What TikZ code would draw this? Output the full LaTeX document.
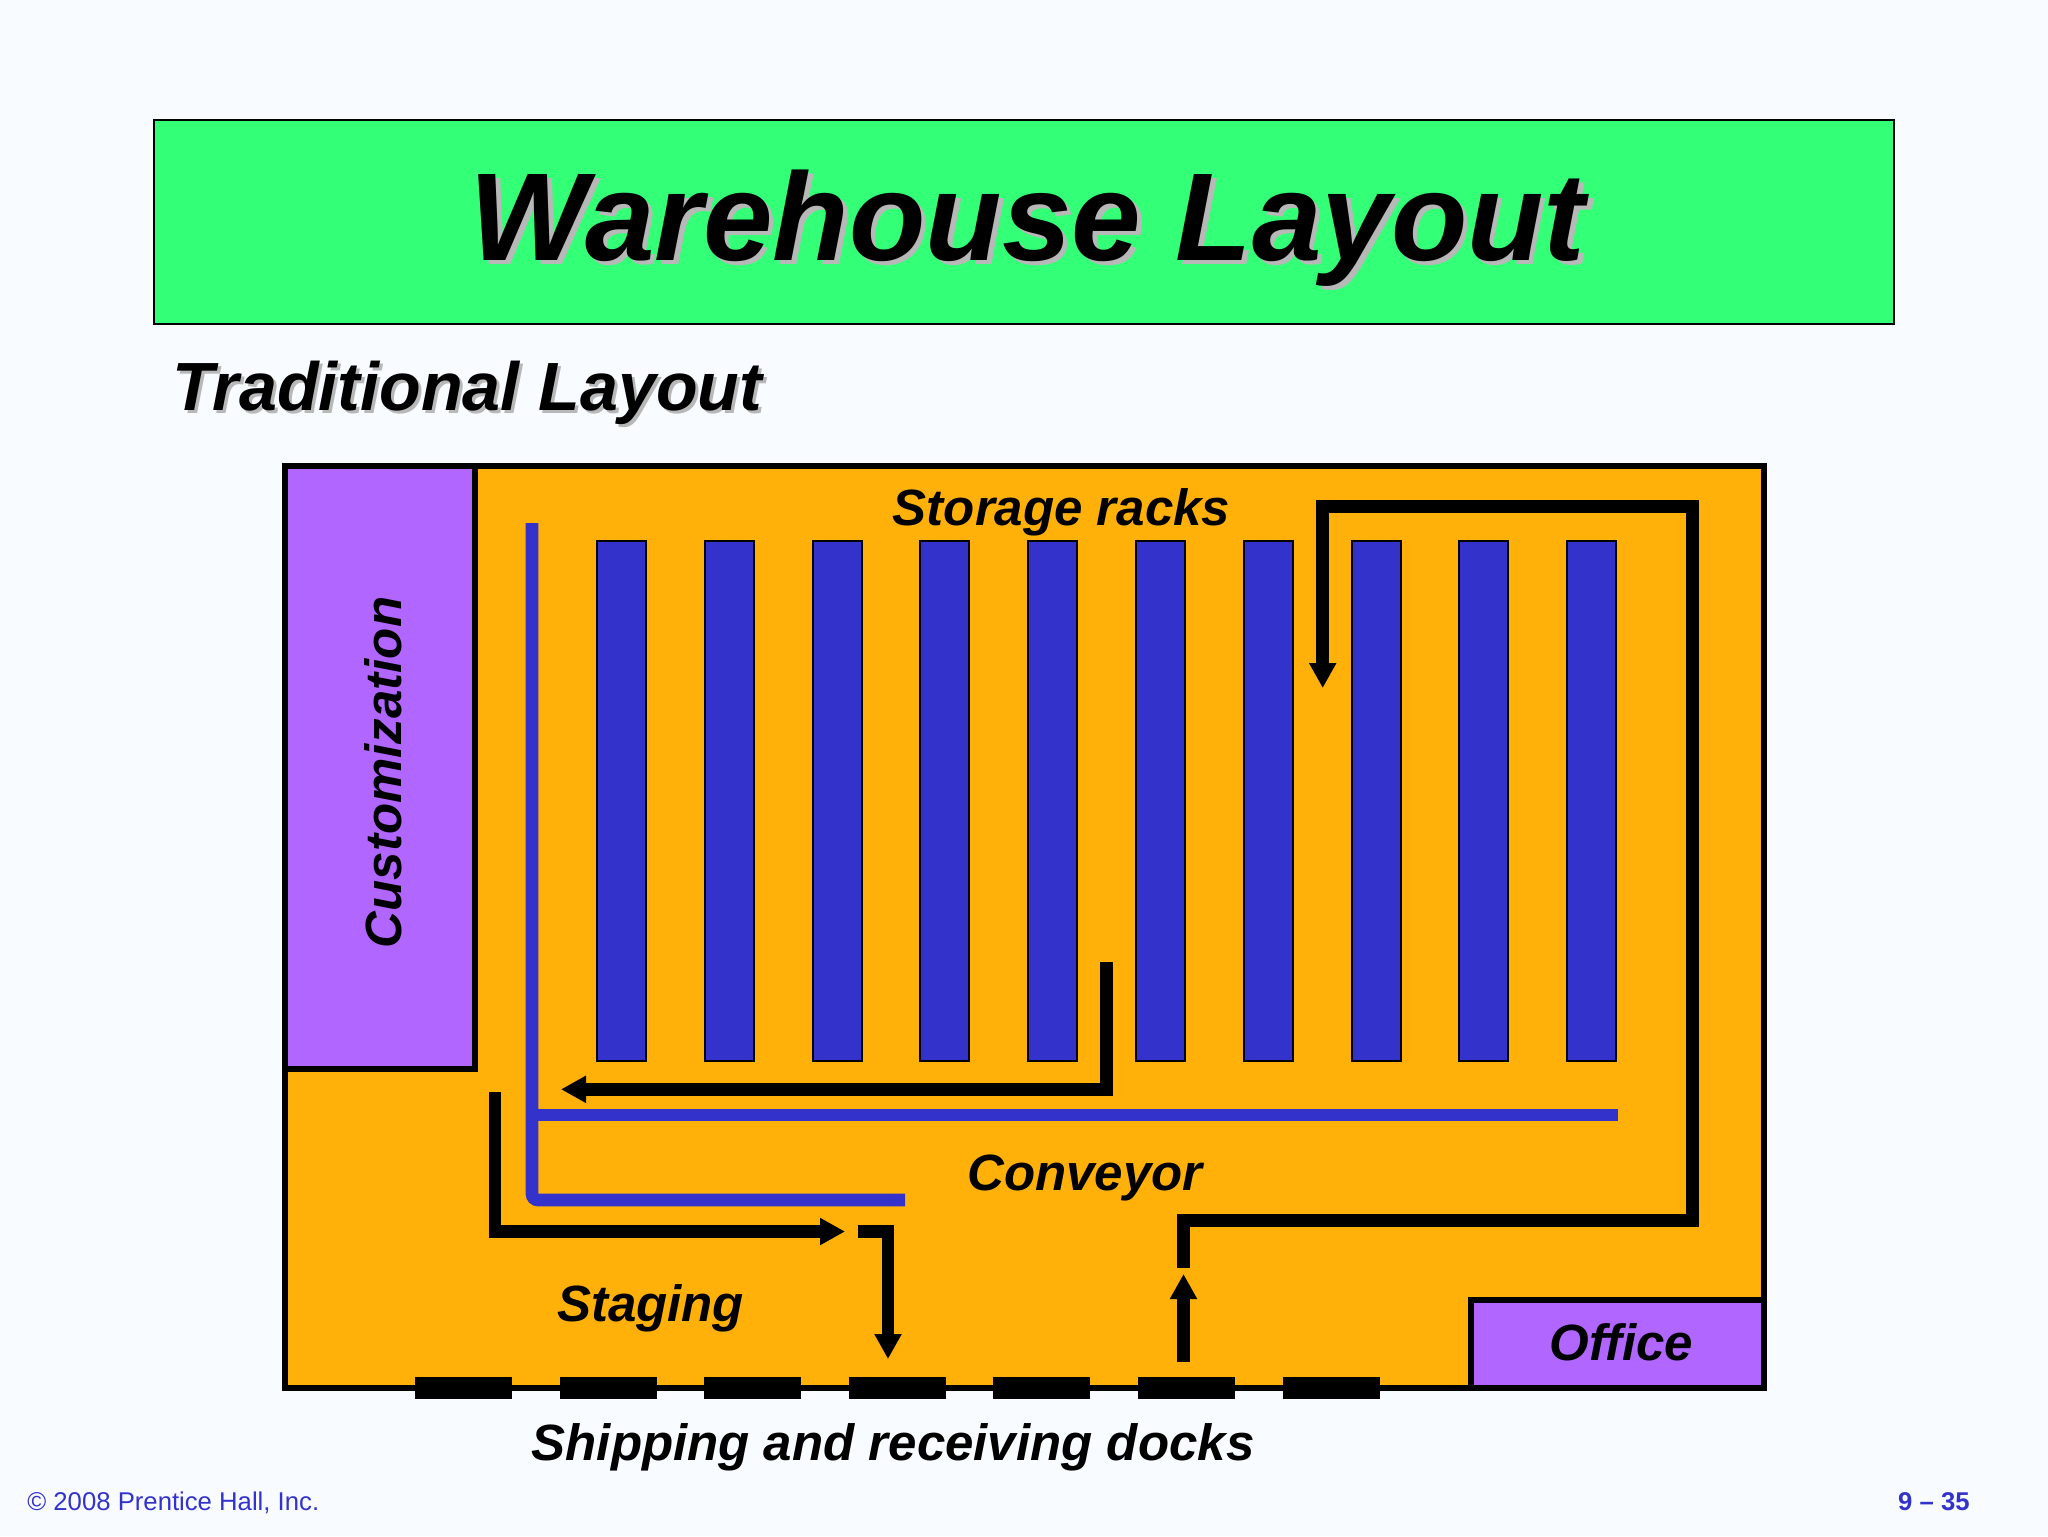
\documentclass[tikz,border=0pt]{standalone}
\usepackage{fontspec}
\setmainfont{Liberation Sans}
\usetikzlibrary{arrows.meta}
\definecolor{pagebg}{HTML}{F8FBFF}
\definecolor{titlegreen}{HTML}{33FF77}
\definecolor{floor}{HTML}{FFB10A}
\definecolor{roomv}{HTML}{B066FF}
\definecolor{rackblue}{HTML}{3333CC}
\definecolor{shadowgray}{HTML}{B8B8B8}
\tikzset{
  wall/.style={draw=black,line width=3pt,miter limit=10},
  flow/.style={draw=black,line width=6.4pt,line cap=butt,line join=miter},
  flowtip/.style={flow,-{Triangle[length=12.5pt,width=12.8pt,inset=0pt]}},
  belt/.style={draw=rackblue,line width=6.3pt,line cap=butt},
  lab/.style={inner sep=0pt,anchor=base,font=\fontsize{25.5}{30}\selectfont\bfseries\itshape},
  foot/.style={inner sep=0pt,text=rackblue,font=\fontsize{12.85}{15}\selectfont}
}
\begin{document}
\begin{tikzpicture}[x=0.5pt,y=-0.5pt]
\fill[pagebg] (0,0) rectangle (2048,1536);
\path[use as bounding box] (0,0) rectangle (2048,1536);
% title
\draw[fill=titlegreen,line width=1pt] (153.5,120) rectangle (1894,324);
\node[inner sep=0pt,anchor=base,text=shadowgray,font=\fontsize{62.5}{70}\selectfont\bfseries\itshape] at (1032,264) {Warehouse Layout};
\node[inner sep=0pt,anchor=base,font=\fontsize{62.5}{70}\selectfont\bfseries\itshape] (title) at (1027.5,260.5) {Warehouse Layout};
% subtitle
\node[inner sep=0pt,anchor=base west,text=shadowgray,font=\fontsize{34.1}{40}\selectfont\bfseries\itshape] at (175,413) {Traditional Layout};
\node[inner sep=0pt,anchor=base west,font=\fontsize{34.1}{40}\selectfont\bfseries\itshape] (subtitle) at (172,410) {Traditional Layout};
% floor
\draw[wall,fill=floor] (285,466) rectangle (1764,1388);
\draw[wall,fill=roomv] (285,466) rectangle (475,1069);
\draw[wall,fill=roomv] (1470.5,1300) rectangle (1764,1388);
% docks
\foreach \d in {0,...,6}
  \fill[black] ({415+144.6*\d},1377) rectangle ({512+144.6*\d},1399);
% racks
\foreach \r in {0,...,9}
  \draw[fill=rackblue,line width=1pt] ({597+107.8*\r},540.5) rectangle ({646+107.8*\r},1061);
% conveyor
\draw[belt,rounded corners=3pt] (532,523) -- (532,1200) -- (905,1200);
\draw[belt] (532,1115) -- (1618,1115);
% flows
\coordinate (a0) at (1106.7,962);  \coordinate (a1) at (1106.7,1089.3); \coordinate (a2) at (561,1089.3);
\coordinate (b0) at (495,1092);    \coordinate (b1) at (495,1231.5);    \coordinate (b2) at (845,1231.5);
\coordinate (c0) at (857.5,1231.5);\coordinate (c1) at (888,1231.5);    \coordinate (c2) at (888,1359);
\coordinate (d0) at (1183.5,1362); \coordinate (d1) at (1183.5,1274);
\coordinate (e0) at (1183.5,1268); \coordinate (e1) at (1183.5,1220.5); \coordinate (e2) at (1692.5,1220.5);
\coordinate (e3) at (1692.5,506.5);\coordinate (e4) at (1322.7,506.5);  \coordinate (e5) at (1322.7,688);
\draw[flowtip] (a0) -- (a1) -- (a2);
\draw[flowtip] (b0) -- (b1) -- (b2);
\draw[flowtip] (c0) -- (c1) -- (c2);
\draw[flowtip] (d0) -- (d1);
\draw[flowtip] (e0) -- (e1) -- (e2) -- (e3) -- (e4) -- (e5);
% labels
\node[lab] (storage) at (1061.5,525) {Storage racks};
\node[lab,rotate=90] (custom) at (401,772.5) {Customization};
\node[lab] (conveyor) at (1085,1190) {Conveyor};
\node[lab] (staging) at (650.5,1321) {Staging};
\node[lab] (office) at (1621.5,1360.5) {Office};
\node[lab] (docks) at (893,1460) {Shipping and receiving docks};
% footer
\node[foot,anchor=base west] (copy) at (27,1510.5) {© 2008 Prentice Hall, Inc.};
\node[foot,anchor=base east,font=\fontsize{12.85}{15}\selectfont\bfseries] (page) at (1970,1510.5) {9 – 35};
\end{tikzpicture}
\end{document}
